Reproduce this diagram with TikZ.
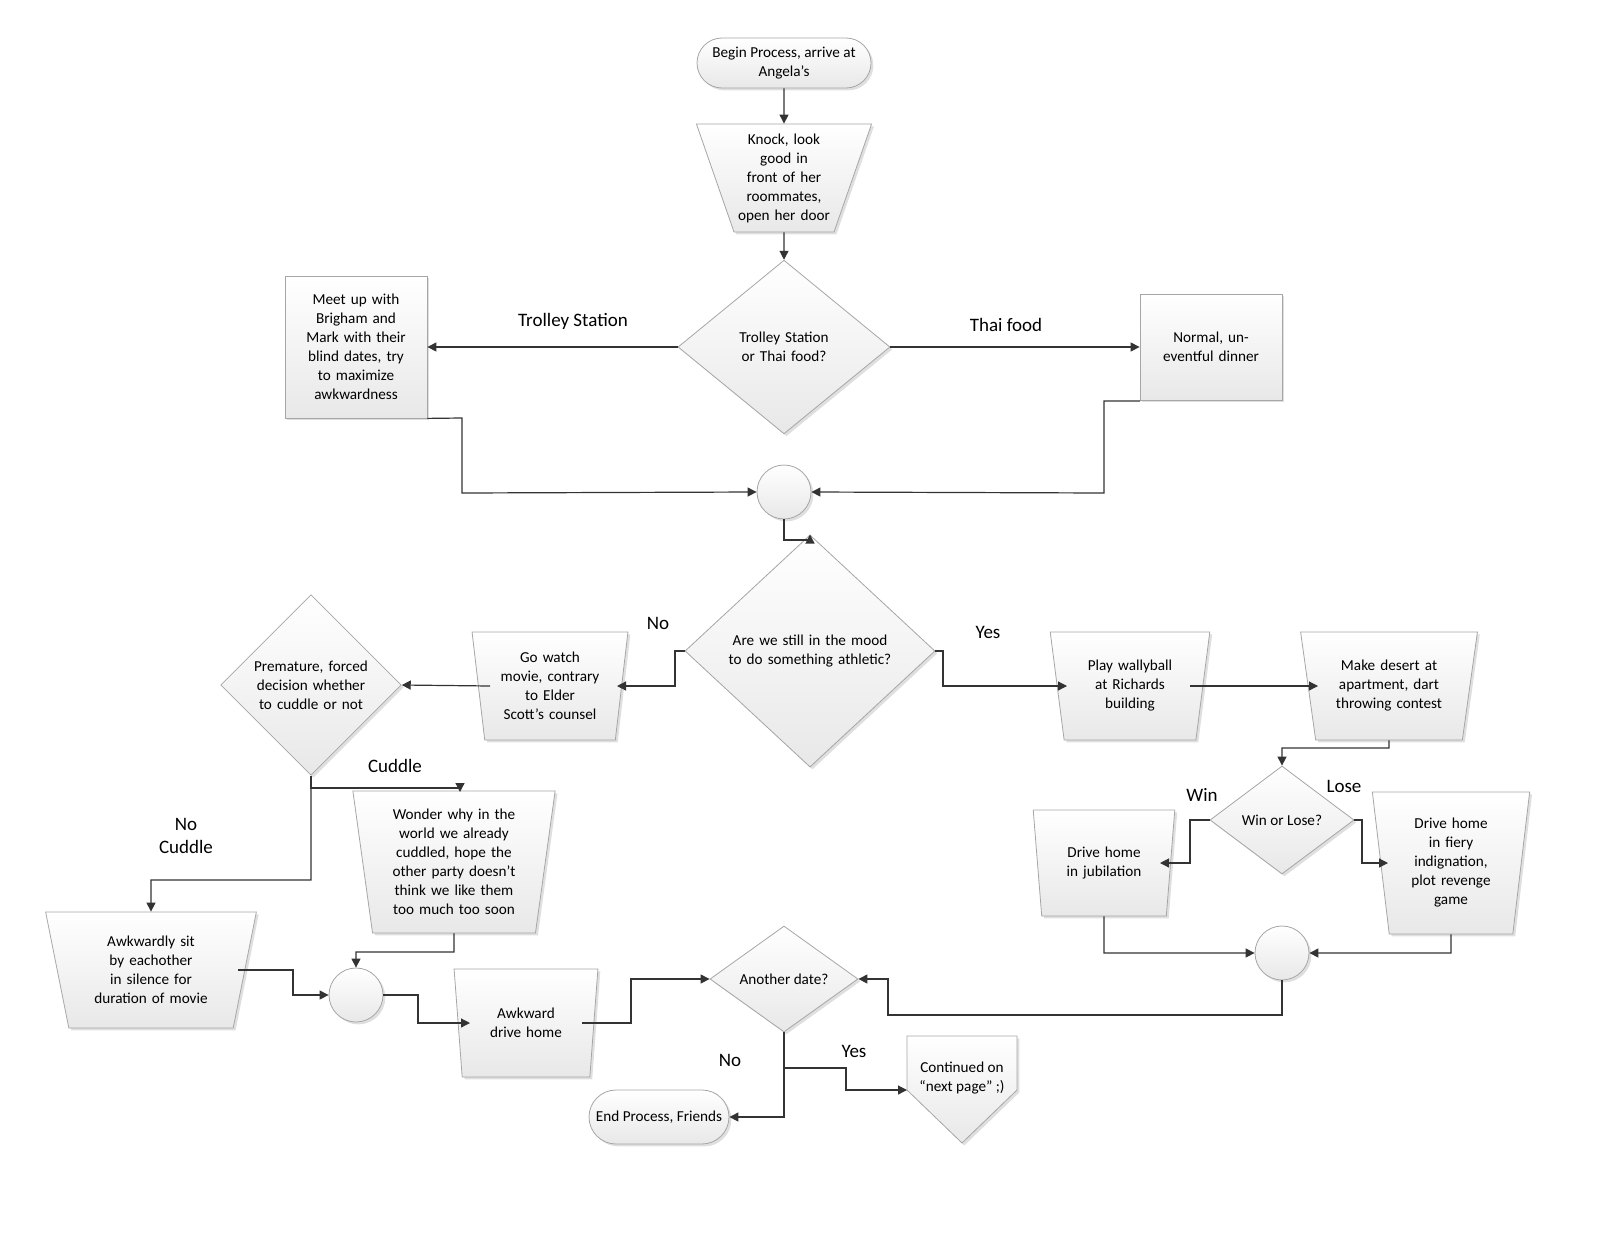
\documentclass[tikz,border=0pt]{standalone}
\usepackage{fontspec}
\setmainfont{Carlito}
\usetikzlibrary{shapes.geometric, shapes.misc, arrows.meta, shadows}
\tikzset{
  box/.style = {draw=gray!70, top color=white, bottom color=gray!18, align=center,
                font=\fontsize{7.6}{9.5}\selectfont, inner sep=1pt,
                drop shadow={opacity=0.25, shadow xshift=1.2pt, shadow yshift=-1.2pt}},
  term/.style = {box, rounded rectangle, minimum height=25pt},
  rect/.style = {box, rectangle},
  trap/.style = {box, trapezium, shape border rotate=180, trapezium stretches=true,
                 trapezium angle=#1},
  dec/.style = {box, diamond, inner sep=0pt},
  merge/.style = {box, circle, minimum size=27pt},
  arrow/.style = {draw=black!80, semithick, -{Triangle[length=4.5pt,width=4.5pt]}},
  lbl/.style = {font=\fontsize{9.5}{11.5}\selectfont}
}
\begin{document}
\begin{tikzpicture}[x=0.5pt, y=-0.5pt]
\useasboundingbox (0,0) rectangle (1600,1236);

% top part
\node (start) [term, minimum width=89pt] at (784,63) {Begin Process, arrive at\\Angela's};
\node (knock) [trap=68, minimum width=87pt, minimum height=54pt, text width=48pt] at (784,178)
  {Knock, look good in front of her roommates, open her door};
\node (choice) [dec, minimum width=106pt, minimum height=80pt, text width=72pt] at (784,347)
  {Trolley Station or Thai food?};
\node (trolley) [rect, minimum width=71pt, minimum height=71pt, text width=64pt] at (356,347)
  {Meet up with Brigham and Mark with their blind dates, try to maximize awkwardness};
\node (thai) [rect, minimum width=71pt, minimum height=53pt, text width=66pt] at (1211,347)
  {Normal, uneventful dinner};
\node (m1) [merge] at (784,492) {};

% middle part
\node (mood) [dec, minimum width=125pt, minimum height=89pt, text width=100pt] at (810,651)
  {Are we still in the mood to do something athletic?};
\node (movie) [trap=82, minimum width=78pt, minimum height=54pt, text width=50pt] at (550,686)
  {Go watch movie, contrary to Elder Scott's counsel};
\node (cuddle) [dec, minimum width=89pt, minimum height=88pt, text width=66pt] at (311,685)
  {Premature, forced decision whether to cuddle or not};
\node (wally) [trap=80, minimum width=80pt, minimum height=54pt, text width=44pt] at (1130,686)
  {Play wallyball at Richards building};
\node (desert) [trap=77, minimum width=89pt, minimum height=54pt, text width=60pt] at (1389,686)
  {Make desert at apartment, dart throwing contest};
\node (win) [dec, minimum width=72pt, minimum height=54pt] at (1282,820) {Win or Lose?};
\node (jubil) [trap=81, minimum width=71pt, minimum height=53pt, text width=40pt] at (1104,863)
  {Drive home in jubilation};
\node (fiery) [trap=82, minimum width=79pt, minimum height=71pt, text width=46pt] at (1451,863)
  {Drive home in fiery indignation, plot revenge game};
\node (m2) [merge] at (1282,953) {};

% bottom part
\node (wonder) [trap=81, minimum width=102pt, minimum height=71pt, text width=70pt] at (454,862)
  {Wonder why in the world we already cuddled, hope the other party doesn't think we like them too much too soon};
\node (sit) [trap=75, minimum width=106pt, minimum height=58pt, text width=66pt] at (151,970)
  {Awkwardly sit by eachother in silence for duration of movie};
\node (m3) [merge] at (356,995) {};
\node (drive) [trap=81, minimum width=72pt, minimum height=54pt, text width=40pt] at (526,1023)
  {Awkward drive home};
\node (again) [dec, minimum width=74pt, minimum height=53pt] at (784,979) {Another date?};
\node (stop) [term, minimum width=72pt, minimum height=27pt] at (659,1117) {End Process, Friends};
\draw [box] (907,1036) -- (1017,1036) -- (1017,1090) -- (962,1143) -- (907,1090) -- cycle;
\node (cont) [font=\fontsize{7.6}{9.5}\selectfont, align=center] at (962,1078)
  {Continued on\\``next page'' ;)};
\coordinate (contw) at (907,1090);

% connectors
\draw [arrow] (start) -- (knock);
\draw [arrow] (knock.south) -- (choice.north);
\draw [arrow] (choice.west) -- (trolley.east |- choice.west);
\draw [arrow] (choice.east) -- (thai.west |- choice.east);
\draw [arrow] (trolley.south east) -- (462,418) -- (462,493) -- (m1.west);
\draw [arrow] (1140,401) -- (1104,401) -- (1104,493) -- (m1.east);
\draw [arrow] (m1.south) -- (784,540) -- (810,540) -- (mood.north);
\draw [arrow] (mood.west) -- (675,651) -- (675,686) -- (617,686);
\draw [arrow] (mood.east) -- (943,651) -- (943,686) -- (1067,686);
\draw [arrow] (490,686) -- (cuddle.east);
\draw [arrow] (1190,686) -- (1318,686);
\draw [arrow] (desert.south) -- (1389,748) -- (1282,748) -- (win.north);
\draw [arrow] (win.west) -- (1190,820) -- (1190,863) -- (1160,863);
\draw [arrow] (win.east) -- (1362,820) -- (1362,863) -- (1388,863);
\draw [arrow] (jubil.south) -- (1104,953) -- (m2.west);
\draw [arrow] (fiery.south) -- (1451,953) -- (m2.east);
\draw [arrow] (m2.south) -- (1282,1015) -- (888,1015) -- (888,979) -- (again.east);
\draw [arrow] (cuddle.south) -- (311,788) -- (460,788) -- (460,792);
\draw [arrow] (311,788) -- (311,880) -- (151,880) -- (sit.north);
\draw [arrow] (238,970) -- (293,970) -- (293,995) -- (m3.west);
\draw [arrow] (wonder.south) -- (454,952) -- (356,952) -- (m3.north);
\draw [arrow] (m3.east) -- (418,995) -- (418,1023) -- (470,1023);
\draw [arrow] (582,1023) -- (631,1023) -- (631,979) -- (again.west);
\draw [arrow] (again.south) -- (784,1117) -- (stop.east);
\draw [arrow] (784,1068) -- (846,1068) -- (846,1090) -- (contw);

% labels
\node (lt) [lbl] at (573,321) {Trolley Station};
\node (lth) [lbl] at (1006,325) {Thai food};
\node (lno) [lbl] at (658,623) {No};
\node (lyes) [lbl] at (988,632) {Yes};
\node (lcud) [lbl] at (395,766) {Cuddle};
\node (lnocud) [lbl, align=center] at (186,836) {No\\Cuddle};
\node (lwin) [lbl] at (1202,795) {Win};
\node (llose) [lbl] at (1344,786) {Lose};
\node (lno2) [lbl] at (730,1060) {No};
\node (lyes2) [lbl] at (854,1051) {Yes};
\end{tikzpicture}
\end{document}
